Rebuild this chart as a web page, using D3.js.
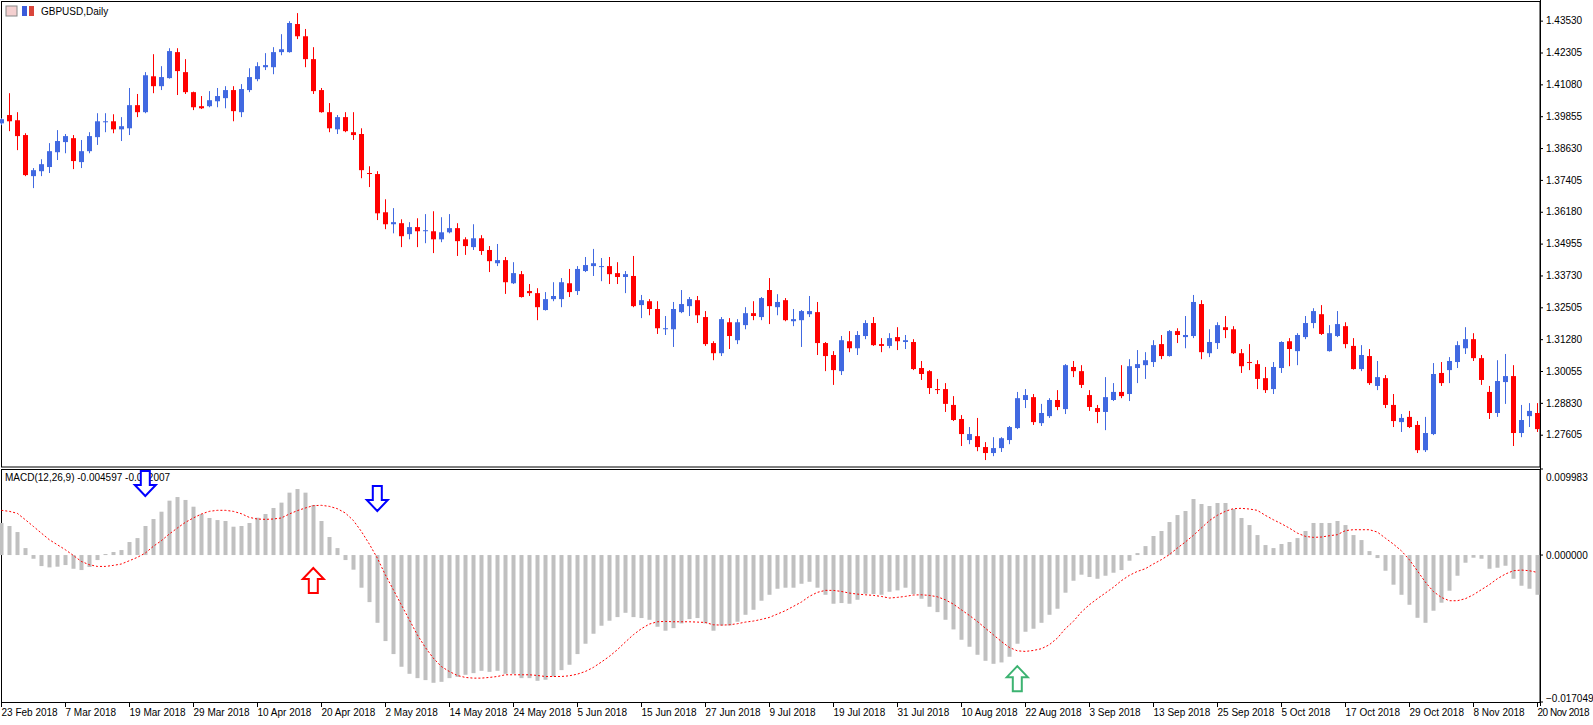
<!DOCTYPE html>
<html><head><meta charset="utf-8">
<script src="https://cdn.jsdelivr.net/npm/d3@7/dist/d3.min.js"></script>
<style>body{margin:0;background:#fff}svg{display:block}text{font-family:"Liberation Sans",Arial,sans-serif;font-size:10px;fill:#000}</style>
</head><body><svg id="c" width="1593" height="725"></svg>
<script>
const open=[1.3958,1.3990,1.3970,1.3913,1.3755,1.3774,1.3790,1.3847,1.3886,1.3901,
1.3809,1.3851,1.3905,1.3964,1.3966,1.3935,1.3939,1.4028,1.4001,1.4139,
1.4101,1.4132,1.4232,1.4155,1.4078,1.4024,1.4024,1.4043,1.4055,1.4086,
1.4001,1.4086,1.4128,1.4174,1.4174,1.4232,1.4232,1.4340,1.4293,1.4205,
1.4086,1.4001,1.3935,1.3982,1.3924,1.3917,1.3767,1.3763,1.3616,1.3570,
1.3574,1.3532,1.3559,1.3545,1.3543,1.3512,1.3539,1.3555,1.3512,1.3482,
1.3516,1.3471,1.3420,1.3432,1.3343,1.3378,1.3313,1.3305,1.3240,1.3282,
1.3282,1.3343,1.3313,1.3390,1.3409,1.3407,1.3409,1.3382,1.3367,1.3371,
1.3259,1.3274,1.3244,1.3168,1.3166,1.3232,1.3255,1.3278,1.3213,1.3113,
1.3074,1.3193,1.3124,1.3182,1.3228,1.3213,1.3317,1.3251,1.3278,1.3197,
1.3201,1.3224,1.3232,1.3113,1.3067,1.3005,1.3120,1.3093,1.3140,1.3190,
1.3109,1.3102,1.3136,1.3117,1.3117,1.3017,1.3005,1.2936,1.2936,1.2875,
1.2821,1.2740,1.2755,1.2713,1.2690,1.2709,1.2740,1.2786,1.2894,1.2905,
1.2805,1.2832,1.2894,1.2859,1.3021,1.3005,1.2913,1.2863,1.2848,1.2894,
1.2925,1.2917,1.3017,1.3028,1.3040,1.3109,1.3063,1.3159,1.3136,1.3140,
1.3263,1.3074,1.3113,1.3174,1.3166,1.3074,1.3040,1.3032,1.2978,1.2936,
1.3017,1.3120,1.3082,1.3136,1.3190,1.3224,1.3082,1.3140,1.3178,1.3102,
1.3013,1.3063,1.2948,1.2978,1.2875,1.2809,1.2829,1.2798,1.2701,1.2763,
1.2998,1.3009,1.3040,1.3093,1.3128,1.3055,1.2925,1.2844,1.2963,1.2986,
1.2767,1.2832,1.2844];
const high=[1.3978,1.4074,1.4001,1.3920,1.3786,1.3820,1.3882,1.3932,1.3917,1.3913,
1.3894,1.3924,1.3997,1.3997,1.3993,1.3982,1.4094,1.4071,1.4155,1.4224,
1.4178,1.4247,1.4247,1.4205,1.4080,1.4063,1.4082,1.4094,1.4101,1.4101,
1.4109,1.4170,1.4193,1.4228,1.4251,1.4301,1.4351,1.4382,1.4321,1.4251,
1.4094,1.4036,1.3990,1.4001,1.4001,1.3939,1.3793,1.3774,1.3666,1.3632,
1.3589,1.3578,1.3593,1.3609,1.3620,1.3597,1.3609,1.3574,1.3520,1.3570,
1.3528,1.3486,1.3494,1.3444,1.3424,1.3390,1.3340,1.3324,1.3309,1.3347,
1.3363,1.3398,1.3409,1.3444,1.3475,1.3440,1.3444,1.3424,1.3390,1.3448,
1.3298,1.3282,1.3274,1.3217,1.3271,1.3317,1.3290,1.3294,1.3236,1.3120,
1.3213,1.3209,1.3205,1.3251,1.3274,1.3290,1.3363,1.3301,1.3286,1.3244,
1.3240,1.3294,1.3271,1.3117,1.3082,1.3140,1.3159,1.3159,1.3201,1.3213,
1.3132,1.3151,1.3174,1.3144,1.3128,1.3044,1.3009,1.2975,1.2959,1.2909,
1.2836,1.2790,1.2825,1.2732,1.2751,1.2751,1.2794,1.2925,1.2936,1.2917,
1.2879,1.2901,1.2932,1.3032,1.3044,1.3028,1.2932,1.2875,1.2982,1.2959,
1.3028,1.3051,1.3086,1.3078,1.3124,1.3144,1.3163,1.3170,1.3217,1.3298,
1.3278,1.3166,1.3193,1.3217,1.3178,1.3090,1.3109,1.3047,1.3021,1.3040,
1.3120,1.3132,1.3151,1.3217,1.3247,1.3259,1.3182,1.3236,1.3193,1.3132,
1.3105,1.3090,1.3044,1.2990,1.2917,1.2840,1.2852,1.2813,1.2829,1.3036,
1.3040,1.3059,1.3120,1.3174,1.3151,1.3067,1.2948,1.3047,1.3071,1.3028,
1.2875,1.2882,1.2882];
const low=[1.3951,1.3928,1.3855,1.3755,1.3709,1.3755,1.3767,1.3817,1.3843,1.3782,
1.3786,1.3843,1.3875,1.3924,1.3920,1.3890,1.3913,1.3982,1.3997,1.4074,
1.4086,1.4130,1.4067,1.4071,1.4009,1.4013,1.4020,1.4020,1.4016,1.3966,
1.3982,1.4078,1.4120,1.4163,1.4147,1.4220,1.4230,1.4282,1.4174,1.4071,
1.3999,1.3924,1.3917,1.3924,1.3894,1.3747,1.3713,1.3586,1.3551,1.3535,
1.3482,1.3512,1.3482,1.3497,1.3459,1.3501,1.3535,1.3448,1.3452,1.3471,
1.3452,1.3386,1.3409,1.3302,1.3340,1.3288,1.3294,1.3201,1.3238,1.3274,
1.3251,1.3290,1.3298,1.3386,1.3371,1.3351,1.3340,1.3340,1.3305,1.3251,
1.3209,1.3220,1.3148,1.3144,1.3098,1.3228,1.3217,1.3190,1.3102,1.3047,
1.3063,1.3090,1.3109,1.3166,1.3201,1.3201,1.3186,1.3220,1.3197,1.3178,
1.3098,1.3213,1.3067,1.3005,1.2952,1.2990,1.3078,1.3067,1.3128,1.3102,
1.3078,1.3093,1.3086,1.3090,1.3009,1.2971,1.2917,1.2917,1.2848,1.2813,
1.2717,1.2724,1.2697,1.2663,1.2678,1.2694,1.2724,1.2782,1.2863,1.2798,
1.2794,1.2825,1.2855,1.2840,1.2982,1.2940,1.2852,1.2805,1.2778,1.2890,
1.2901,1.2890,1.2959,1.2975,1.3021,1.3051,1.3061,1.3113,1.3093,1.3132,
1.3051,1.3059,1.3090,1.3132,1.3071,1.2998,1.3009,1.2936,1.2921,1.2917,
1.2998,1.3024,1.3028,1.3128,1.3170,1.3144,1.3080,1.3136,1.3093,1.3011,
1.3005,1.2952,1.2932,1.2863,1.2790,1.2771,1.2786,1.2690,1.2694,1.2759,
1.2948,1.2959,1.3017,1.3071,1.3044,1.2952,1.2821,1.2829,1.2879,1.2717,
1.2751,1.2790,1.2771];
const close=[1.3974,1.3966,1.3909,1.3759,1.3778,1.3801,1.3851,1.3890,1.3909,1.3813,
1.3851,1.3909,1.3966,1.3966,1.3935,1.3947,1.4028,1.4001,1.4143,1.4101,
1.4136,1.4236,1.4159,1.4078,1.4020,1.4016,1.4047,1.4063,1.4086,1.4005,
1.4090,1.4136,1.4178,1.4182,1.4232,1.4243,1.4344,1.4293,1.4205,1.4082,
1.4001,1.3939,1.3982,1.3928,1.3913,1.3778,1.3765,1.3612,1.3570,1.3578,
1.3524,1.3559,1.3543,1.3547,1.3512,1.3539,1.3555,1.3505,1.3486,1.3516,
1.3467,1.3428,1.3432,1.3347,1.3382,1.3290,1.3305,1.3251,1.3282,1.3294,
1.3347,1.3309,1.3398,1.3413,1.3420,1.3409,1.3378,1.3367,1.3378,1.3255,
1.3278,1.3244,1.3170,1.3170,1.3244,1.3263,1.3282,1.3220,1.3109,1.3074,
1.3205,1.3140,1.3193,1.3228,1.3217,1.3286,1.3255,1.3271,1.3201,1.3205,
1.3236,1.3236,1.3113,1.3063,1.3009,1.3124,1.3093,1.3144,1.3190,1.3105,
1.3102,1.3132,1.3120,1.3124,1.3013,1.2994,1.2940,1.2934,1.2879,1.2817,
1.2763,1.2763,1.2713,1.2690,1.2709,1.2747,1.2790,1.2901,1.2913,1.2809,
1.2844,1.2894,1.2867,1.3028,1.3005,1.2952,1.2867,1.2848,1.2905,1.2925,
1.2909,1.3024,1.3032,1.3047,1.3105,1.3063,1.3159,1.3144,1.3144,1.3271,
1.3078,1.3117,1.3182,1.3163,1.3074,1.3024,1.3038,1.2975,1.2932,1.3021,
1.3117,1.3090,1.3144,1.3190,1.3236,1.3148,1.3151,1.3186,1.3109,1.3013,
1.3067,1.2959,1.2982,1.2875,1.2813,1.2825,1.2790,1.2701,1.2767,1.2994,
1.2959,1.3044,1.3105,1.3128,1.3055,1.2971,1.2844,1.2967,1.2986,1.2767,
1.2817,1.2852,1.2782];
const macd=[0.00372,0.00337,0.00267,0.00081,-0.00043,-0.00128,-0.00143,-0.00135,-0.00116,-0.00159,
-0.00174,-0.00139,-0.00058,0.00012,0.00035,0.00058,0.00151,0.00197,0.00337,0.00418,
0.00503,0.00631,0.00673,0.00639,0.00561,0.00476,0.00430,0.00406,0.00395,0.00329,
0.00337,0.00372,0.00433,0.00476,0.00546,0.00608,0.00724,0.00766,0.00724,0.00581,
0.00395,0.00209,0.00081,-0.00058,-0.00170,-0.00379,-0.00546,-0.00786,-0.00998,-0.01149,
-0.01296,-0.01378,-0.01428,-0.01451,-0.01482,-0.01471,-0.01428,-0.01413,-0.01389,-0.01370,
-0.01343,-0.01355,-0.01343,-0.01378,-0.01378,-0.01428,-0.01428,-0.01459,-0.01447,-0.01409,
-0.01335,-0.01273,-0.01149,-0.01029,-0.00913,-0.00820,-0.00762,-0.00720,-0.00670,-0.00720,
-0.00731,-0.00751,-0.00832,-0.00878,-0.00848,-0.00793,-0.00743,-0.00731,-0.00793,-0.00878,
-0.00817,-0.00817,-0.00774,-0.00693,-0.00635,-0.00530,-0.00461,-0.00391,-0.00379,-0.00379,
-0.00333,-0.00310,-0.00379,-0.00461,-0.00565,-0.00557,-0.00565,-0.00519,-0.00449,-0.00453,
-0.00461,-0.00426,-0.00410,-0.00379,-0.00453,-0.00507,-0.00600,-0.00662,-0.00751,-0.00863,
-0.00983,-0.01064,-0.01157,-0.01227,-0.01262,-0.01246,-0.01180,-0.01029,-0.00890,-0.00855,
-0.00786,-0.00693,-0.00623,-0.00437,-0.00298,-0.00228,-0.00255,-0.00275,-0.00240,-0.00205,
-0.00174,-0.00066,0.00023,0.00104,0.00221,0.00279,0.00383,0.00464,0.00511,0.00650,
0.00592,0.00569,0.00604,0.00604,0.00534,0.00430,0.00348,0.00232,0.00116,0.00081,
0.00128,0.00151,0.00197,0.00279,0.00372,0.00372,0.00372,0.00395,0.00348,0.00232,
0.00174,0.00046,-0.00035,-0.00182,-0.00344,-0.00461,-0.00577,-0.00728,-0.00786,-0.00646,
-0.00553,-0.00414,-0.00240,-0.00089,-0.00031,-0.00043,-0.00159,-0.00147,-0.00124,-0.00275,
-0.00356,-0.00391,-0.00461];
const signal=[0.00519,0.00507,0.00484,0.00410,0.00333,0.00255,0.00178,0.00120,0.00062,-0.00004,
-0.00074,-0.00112,-0.00132,-0.00132,-0.00120,-0.00104,-0.00066,-0.00027,0.00023,0.00101,
0.00166,0.00244,0.00313,0.00379,0.00430,0.00476,0.00507,0.00519,0.00519,0.00507,
0.00480,0.00437,0.00418,0.00414,0.00418,0.00430,0.00476,0.00515,0.00546,0.00573,
0.00577,0.00565,0.00538,0.00488,0.00402,0.00275,0.00128,-0.00035,-0.00228,-0.00402,
-0.00577,-0.00751,-0.00925,-0.01072,-0.01196,-0.01293,-0.01351,-0.01397,-0.01420,-0.01428,
-0.01428,-0.01420,-0.01409,-0.01389,-0.01389,-0.01389,-0.01389,-0.01397,-0.01409,-0.01409,
-0.01409,-0.01401,-0.01382,-0.01351,-0.01304,-0.01242,-0.01176,-0.01099,-0.01010,-0.00925,
-0.00855,-0.00801,-0.00774,-0.00770,-0.00774,-0.00774,-0.00774,-0.00778,-0.00782,-0.00809,
-0.00813,-0.00809,-0.00797,-0.00778,-0.00766,-0.00747,-0.00724,-0.00685,-0.00646,-0.00596,
-0.00546,-0.00480,-0.00433,-0.00410,-0.00410,-0.00422,-0.00441,-0.00453,-0.00461,-0.00468,
-0.00480,-0.00499,-0.00491,-0.00480,-0.00464,-0.00461,-0.00468,-0.00484,-0.00519,-0.00569,
-0.00635,-0.00700,-0.00770,-0.00848,-0.00925,-0.01002,-0.01072,-0.01111,-0.01118,-0.01107,
-0.01087,-0.01041,-0.00964,-0.00855,-0.00770,-0.00662,-0.00577,-0.00507,-0.00441,-0.00375,
-0.00298,-0.00236,-0.00190,-0.00159,-0.00104,-0.00054,0.00004,0.00081,0.00151,0.00228,
0.00313,0.00399,0.00461,0.00507,0.00538,0.00542,0.00534,0.00519,0.00461,0.00410,
0.00364,0.00313,0.00255,0.00217,0.00205,0.00209,0.00224,0.00236,0.00283,0.00294,
0.00294,0.00294,0.00267,0.00197,0.00128,0.00050,-0.00054,-0.00182,-0.00313,-0.00422,
-0.00491,-0.00530,-0.00530,-0.00507,-0.00461,-0.00402,-0.00344,-0.00275,-0.00221,-0.00182,
-0.00174,-0.00182,-0.00201];
const priceTicks=[1.43530,1.42305,1.41080,1.39855,1.38630,1.37405,1.36180,1.34955,1.33730,1.32505,1.31280,1.30055,1.28830,1.27605];
const macdTicks=[0.009983,0.000000,-0.017049];
const dateIdx=[0,8,16,24,32,40,48,56,64,72,80,88,96,104,112,120,128,136,144,152,160,168,176,184,192];
const dateLabels=["23 Feb 2018","7 Mar 2018","19 Mar 2018","29 Mar 2018","10 Apr 2018","20 Apr 2018","2 May 2018","14 May 2018","24 May 2018","5 Jun 2018","15 Jun 2018","27 Jun 2018","9 Jul 2018","19 Jul 2018","31 Jul 2018","10 Aug 2018","22 Aug 2018","3 Sep 2018","13 Sep 2018","25 Sep 2018","5 Oct 2018","17 Oct 2018","29 Oct 2018","8 Nov 2018","20 Nov 2018"];
const arrowsIdx=[18,47,39,127];
const arrowsVal=[0.00685,0.00511,-0.00151,-0.01289];
const arrowsDir=["down","down","up","up"];
const arrowsCol=["#0000ff","#0000ff","#ff0000","#3cb371"];

const svg=d3.select("#c");
const AX=1540, PT=1, PB=467, MT=469, MB=702;
const x=d3.scaleLinear().domain([0,192]).range([1.3,1537.3]);
const y=d3.scaleLinear().domain([1.26363,1.44286]).range([PB,PT]);
const ym=d3.scaleLinear().domain([-0.017049,0.009983]).range([MB,MT]);
const idx=d3.range(open.length);

svg.append("rect").attr("x",1.5).attr("y",1.5).attr("width",AX-1.5).attr("height",PB-1.5).attr("fill","none").attr("stroke","#000");
svg.append("rect").attr("x",1.5).attr("y",MT+0.5).attr("width",AX-1.5).attr("height",MB-MT).attr("fill","none").attr("stroke","#000");

const pa=svg.append("g").attr("transform",`translate(${AX},0)`).call(d3.axisRight(y).tickValues(priceTicks).tickFormat(d3.format(".5f")).tickSize(3).tickPadding(3));
pa.select(".domain").remove();
pa.selectAll("text").attr("font-size",10).attr("font-family","Liberation Sans, Arial");
pa.selectAll("line").attr("stroke","#000");

const cg=svg.append("g");
idx.forEach(i=>{
  const up=close[i]>=open[i], col=up?"#4169e1":"#ff0000", cx=Math.round(x(i))+0.5;
  cg.append("line").attr("x1",cx).attr("x2",cx).attr("y1",y(high[i])).attr("y2",y(low[i])).attr("stroke",col);
  const t=y(Math.max(open[i],close[i])), b=y(Math.min(open[i],close[i]));
  cg.append("rect").attr("x",cx-2.5).attr("width",5).attr("y",t).attr("height",Math.max(1,b-t)).attr("fill",col);
});

svg.append("rect").attr("x",6).attr("y",6).attr("width",11).attr("height",10).attr("fill","#f4d0d0").attr("stroke","#888");
svg.append("rect").attr("x",22).attr("y",6).attr("width",5).attr("height",10).attr("fill","#3b5bdb");
svg.append("rect").attr("x",29).attr("y",6).attr("width",5).attr("height",10).attr("fill","#d9453b");
svg.append("text").attr("x",41).attr("y",15).attr("font-size",10).text("GBPUSD,Daily");

svg.append("g").selectAll("rect").data(idx).join("rect")
  .attr("x",i=>Math.round(x(i))-1.5).attr("width",4)
  .attr("y",i=>Math.min(ym(0),ym(macd[i]))).attr("height",i=>Math.abs(ym(macd[i])-ym(0)))
  .attr("fill","#c0c0c0");
svg.append("path").datum(idx).attr("fill","none").attr("stroke","#ff0000").attr("stroke-width",1)
  .attr("stroke-dasharray","2,2").attr("d",d3.line().x(i=>x(i)).y(i=>ym(signal[i])));

const ma=svg.append("g").attr("transform",`translate(${AX},0)`);
ma.selectAll("text").data(macdTicks).join("text").attr("x",6)
  .attr("y",d=>Math.min(MB-4,Math.max(MT+8,ym(d)))).attr("dy","0.35em").attr("font-size",10).text(d=>d3.format(".6f")(d));
ma.selectAll("line").data(macdTicks).join("line").attr("x1",0).attr("x2",3).attr("y1",d=>ym(d)).attr("y2",d=>ym(d)).attr("stroke","#000");
svg.append("line").attr("x1",AX+0.5).attr("x2",AX+0.5).attr("y1",0).attr("y2",MB+4).attr("stroke","#000");
svg.append("text").attr("x",5).attr("y",MT+12).attr("font-size",10).text("MACD(12,26,9) -0.004597 -0.002007");

const arrowPath="M-4.5,-25L4.5,-25L4.5,-11L10.5,-11L0,0L-10.5,-11L-4.5,-11Z";
arrowsIdx.forEach((ai,k)=>{
  const rot=arrowsDir[k]==="up"?180:0;
  svg.append("path").attr("d",arrowPath).attr("transform",`translate(${x(ai)},${ym(arrowsVal[k])}) rotate(${rot})`)
    .attr("fill","#fff").attr("stroke",arrowsCol[k]).attr("stroke-width",2);
});

const dg=svg.append("g");
dateIdx.forEach((di,k)=>{
  const xx=Math.round(x(di))+0.5;
  dg.append("line").attr("x1",xx).attr("x2",xx).attr("y1",MB).attr("y2",MB+5).attr("stroke","#000");
  dg.append("text").attr("x",xx).attr("y",MB+14).attr("font-size",9.5).attr("textLength",k===dateIdx.length-1?52:null).text(dateLabels[k]);
});
</script></body></html>
